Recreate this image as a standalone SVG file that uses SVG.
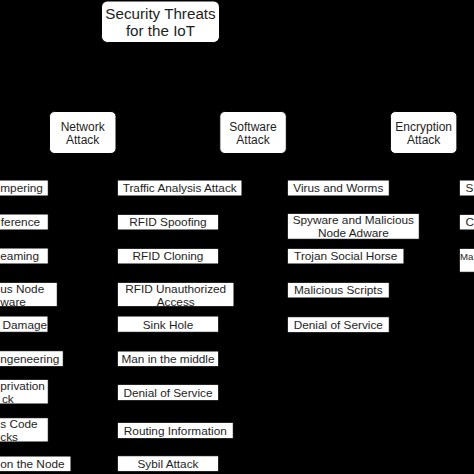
<svg xmlns="http://www.w3.org/2000/svg" width="474" height="474" viewBox="0 0 474 474">
<style>
.bg{fill:#000}
.rb{fill:#fff;stroke:#000;stroke-width:1}
.lb{fill:#fff;stroke:#000;stroke-width:1}
text{font-family:"Liberation Sans",Arial,sans-serif;fill:#1e1e1e}
.t{font-size:15.2px;text-anchor:middle}
.h{font-size:12px;text-anchor:middle}
.l{font-size:11.8px;text-anchor:middle}
.s{font-size:11.8px;text-anchor:start}
</style>
<rect class="bg" x="0" y="0" width="474" height="474"/>
<g id="connectors"/>
<g id="root"><rect class="rb" x="101.5" y="1" width="118" height="41.5" rx="6"/><text class="t" x="160.5" y="19">Security Threats</text><text class="t" x="160.5" y="36">for the IoT</text></g>
<g id="network"><rect class="rb" x="49.5" y="111.5" width="66.5" height="42" rx="5"/><text class="h" x="82.7" y="130.5">Network</text><text class="h" x="82.7" y="144">Attack</text></g>
<g id="software"><rect class="rb" x="219.8" y="111.5" width="66.5" height="42" rx="5"/><text class="h" x="253" y="130.5">Software</text><text class="h" x="253" y="144">Attack</text></g>
<g id="encryption"><rect class="rb" x="390.4" y="111.5" width="66.5" height="42" rx="5"/><text class="h" x="423.7" y="130.5">Encryption</text><text class="h" x="423.7" y="144">Attack</text></g>

<g id="n1"><rect class="lb" x="-53" y="180" width="101.3" height="16"/><text class="s" x="0.3" y="192.3">mpering</text></g>
<g id="n2"><rect class="lb" x="-53" y="214" width="101.3" height="16"/><text class="s" x="0.8" y="226.3">ference</text></g>
<g id="n3"><rect class="lb" x="-53" y="248" width="101.3" height="16"/><text class="s" x="0.3" y="260.3">eaming</text></g>
<g id="n4"><rect class="lb" x="-53" y="282.3" width="110.3" height="24.4"/><text class="s" x="0.3" y="293">us Node</text><text class="s" x="0.3" y="305.8">ware</text></g>
<g id="n5"><rect class="lb" x="-53" y="316" width="101" height="16.3"/><text class="s" x="2.5" y="328.5">Damage</text></g>
<g id="n6"><rect class="lb" x="-53" y="350.7" width="116.3" height="16"/><text class="s" x="0.3" y="362.9">ngeneering</text></g>
<g id="n7"><rect class="lb" x="-53" y="379.3" width="101.3" height="24.7"/><text class="s" x="0.3" y="389.5">privation</text><text class="s" x="1.9" y="403">ck</text></g>
<g id="n8"><rect class="lb" x="-53" y="417.7" width="101.3" height="24.3"/><text class="s" x="0.3" y="427.7">s Code</text><text class="s" x="0.3" y="440.5">cks</text></g>
<g id="n9"><rect class="lb" x="-53" y="456" width="124" height="15.7"/><text class="s" x="0.3" y="468">on the Node</text></g>

<g id="s1"><rect class="lb" x="117.3" y="180" width="124.7" height="16"/><text class="l" x="179.7" y="192.3">Traffic Analysis Attack</text></g>
<g id="s2"><rect class="lb" x="117.3" y="214.3" width="101.4" height="15.7"/><text class="l" x="168" y="226.4">RFID Spoofing</text></g>
<g id="s3"><rect class="lb" x="117.3" y="248.3" width="101.4" height="15.7"/><text class="l" x="168" y="260.4">RFID Cloning</text></g>
<g id="s4"><rect class="lb" x="117.3" y="282.3" width="116.7" height="24.4"/><text class="l" x="175.7" y="292.7">RFID Unauthorized</text><text class="l" x="175.7" y="305.8">Access</text></g>
<g id="s5"><rect class="lb" x="117.3" y="316" width="101.4" height="16.3"/><text class="l" x="168" y="328.5">Sink Hole</text></g>
<g id="s6"><rect class="lb" x="117.3" y="351" width="101.4" height="15.7"/><text class="l" x="168" y="363">Man in the middle</text></g>
<g id="s7"><rect class="lb" x="117.3" y="384.3" width="101.4" height="16.4"/><text class="l" x="168" y="396.7">Denial of Service</text></g>
<g id="s8"><rect class="lb" x="117.3" y="422.3" width="116" height="16.4"/><text class="l" x="175.3" y="434.7">Routing Information</text></g>
<g id="s9"><rect class="lb" x="117.3" y="455.7" width="101.4" height="16"/><text class="l" x="168" y="468">Sybil Attack</text></g>

<g id="w1"><rect class="lb" x="287.3" y="180" width="102" height="16"/><text class="l" x="338.3" y="192.3">Virus and Worms</text></g>
<g id="w2"><rect class="lb" x="287.3" y="213.3" width="132" height="26"/><text class="l" x="353.3" y="224.3">Spyware and Malicious</text><text class="l" x="353.3" y="237">Node Adware</text></g>
<g id="w3"><rect class="lb" x="287.3" y="248.3" width="116.7" height="15.7"/><text class="l" x="345.7" y="260.4">Trojan Social Horse</text></g>
<g id="w4"><rect class="lb" x="287.3" y="282.3" width="102" height="15.7"/><text class="l" x="338.3" y="294.4">Malicious Scripts</text></g>
<g id="w5"><rect class="lb" x="287.3" y="316.7" width="102" height="16"/><text class="l" x="338.3" y="328.9">Denial of Service</text></g>

<g id="c1"><rect class="lb" x="459.3" y="180" width="40" height="16"/><text class="s" x="465.5" y="192.3">S</text></g>
<g id="c2"><rect class="lb" x="459.3" y="214.3" width="40" height="15.7"/><text class="s" x="465.5" y="226.4">C</text></g>
<g id="c3"><rect class="lb" x="459.3" y="248.3" width="40" height="24"/><text x="460" y="259.5" style="font-size:9.6px">Ma</text></g>
</svg>
